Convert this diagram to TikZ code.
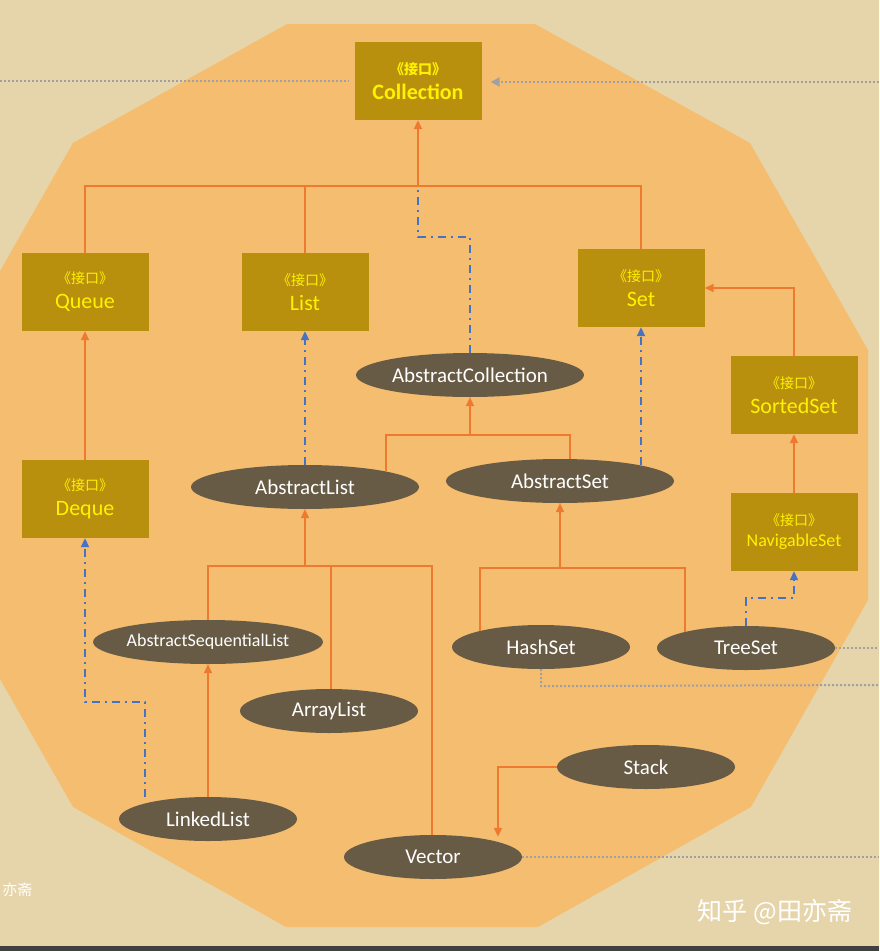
\documentclass[tikz,border=0pt]{standalone}
\usepackage{fontspec}
\setmainfont{Carlito}
\newfontfamily\cjk{Noto Sans CJK SC}
\usetikzlibrary{shapes.geometric,arrows.meta}
\definecolor{bgc}{HTML}{E6D5AA}
\definecolor{polyc}{HTML}{F5BD70}
\definecolor{boxc}{HTML}{B8900E}
\definecolor{ytext}{HTML}{FFF200}
\definecolor{ellc}{HTML}{685B45}
\definecolor{orc}{HTML}{EE7A30}
\definecolor{bluec}{HTML}{4472C4}
\definecolor{grayc}{HTML}{A0A0A0}
\newcommand\ifl[1]{{\cjk\fontsize{14}{18}\selectfont 《接口》}\\[1pt]#1}
\begin{document}
\begin{tikzpicture}[x=1pt,y=-1pt,
  iface/.style={fill=boxc, minimum width=127pt, minimum height=78pt, inner sep=0pt, align=center, text=ytext, font=\fontsize{22}{24}\selectfont},
  cls/.style={ellipse, fill=ellc, minimum width=178pt, minimum height=44pt, inner sep=0pt, text=white, font=\fontsize{21}{23}\selectfont},
  wide/.style={minimum width=228pt},
  inh/.style={draw=orc, line width=2pt},
  arr/.style={-{Triangle[length=9pt,width=8pt]}},
  impl/.style={draw=bluec, line width=2pt, dash pattern=on 8pt off 5pt on 2pt off 5pt},
  dotg/.style={draw=grayc, line width=2pt, dash pattern=on 2pt off 2pt}]
\useasboundingbox (0,0) rectangle (879,951);
\fill[bgc] (0,0) rectangle (879,951);
\begin{scope}
\clip (0,0) rectangle (879,946);
\fill[polyc] (287,24) -- (535,24) -- (750,143) -- (868,350) -- (868,600) -- (751,807) -- (538,927) -- (286,927) -- (73,807) -- (-45,600) -- (-45,350) -- (73,143) -- cycle;
\end{scope}
\fill[black!75] (0,946) rectangle (879,951);

% interfaces
\node[iface, font=\fontsize{22}{24}\selectfont\bfseries] (coll) at (418,81) {\ifl{Collection}};
\node[iface] (queue) at (85,292) {\ifl{Queue}};
\node[iface] (list) at (305,292) {\ifl{List}};
\node[iface] (set) at (641,288) {\ifl{Set}};
\node[iface] (sorted) at (794,395) {\ifl{SortedSet}};
\node[iface] (deque) at (85,499) {\ifl{Deque}};
\node[iface, font=\fontsize{18}{20}\selectfont] (nav) at (794,532) {\ifl{NavigableSet}};

% classes
\node[cls, wide] (ac) at (470,375) {AbstractCollection};
\node[cls, wide] (al) at (305,487) {AbstractList};
\node[cls, wide] (as) at (560,481) {AbstractSet};
\node[cls, wide, font=\fontsize{18}{20}\selectfont] (asl) at (208,642) {AbstractSequentialList};
\node[cls] (arr) at (329,711) {ArrayList};
\node[cls] (hs) at (541,647) {HashSet};
\node[cls] (ts) at (746,648) {TreeSet};
\node[cls] (stack) at (646,767) {Stack};
\node[cls] (ll) at (208,819) {LinkedList};
\node[cls] (vec) at (433,857) {Vector};

% dotted gray lines
\draw[dotg] (0,81) -- ([xshift=-6pt]coll.west);
\draw[dotg, -{Triangle[length=9pt,width=9pt]}] (879,82) -- ([xshift=9pt]coll.east |- 0,82);
\draw[dotg] (ts.east) -- (ts.east -| 879,0);
\draw[dotg] (hs.south) -- ++(0,17) -- (879,685);
\draw[dotg] (vec.east) -- (vec.east -| 879,0);

% Collection hierarchy
\coordinate (h1) at (85,186);
\draw[inh] (queue.north) -- (queue.north |- h1) -- (set.north |- h1) -- (set.north);
\draw[inh] (list.north) -- (list.north |- h1);
\draw[inh, arr] (coll.south |- h1) -- (coll.south);
\draw[impl] (ac.north) |- (418,237) -- (418,188);

% Queue / Deque
\draw[inh, arr] (deque.north) -- (queue.south);
\draw[impl, arr] ([xshift=-63pt]ll.north) |- (85,702) -- (deque.south);

% List / AbstractList
\draw[impl, arr] (al.north) -- (list.south);

% AbstractCollection
\coordinate (h2) at (387,435);
\draw[inh] (al.north east) -- (al.north east |- h2) -- (570,435) -- ([xshift=10pt]as.north);
\draw[inh, arr] (ac.south |- h2) -- (ac.south);

% Set
\draw[impl, arr] ([xshift=81pt,yshift=16pt]as.center) -- (set.south -| 641,0);
\draw[inh, arr] (sorted.north) |- (set.east);
\draw[inh, arr] (nav.north) -- (sorted.south);
\draw[impl, arr] (ts.north) |- (794,598) -- (nav.south);

% AbstractSet
\coordinate (h3) at (480,568);
\draw[inh] ([xshift=-61pt,yshift=16pt]hs.center) -- (h3) -- (685,568) -- ([xshift=-61pt,yshift=16pt]ts.center);
\draw[inh, arr] (as.south |- h3) -- (as.south);

% AbstractList children
\coordinate (h4) at (208,566);
\draw[inh] (asl.north) -- (h4) -- (432,566) -- (vec.north -| 432,0);
\draw[inh] (arr.north -| 331,0) -- (331,566);
\draw[inh, arr] (al.south |- h4) -- (al.south);
\draw[inh, arr] (ll.north) -- (asl.south);

% Stack -> Vector
\draw[inh, arr] (stack.west) -| ([xshift=65pt,yshift=-2pt]vec.north);

% watermarks
\node[anchor=east, text=white, font=\cjk\fontsize{15}{17}\selectfont] (wm1) at (36,890) {亦斋};
\node[text=white, font=\cjk\fontsize{25}{28}\selectfont] (wm2) at (775,912) {知乎 @田亦斋};
\end{tikzpicture}
\end{document}
